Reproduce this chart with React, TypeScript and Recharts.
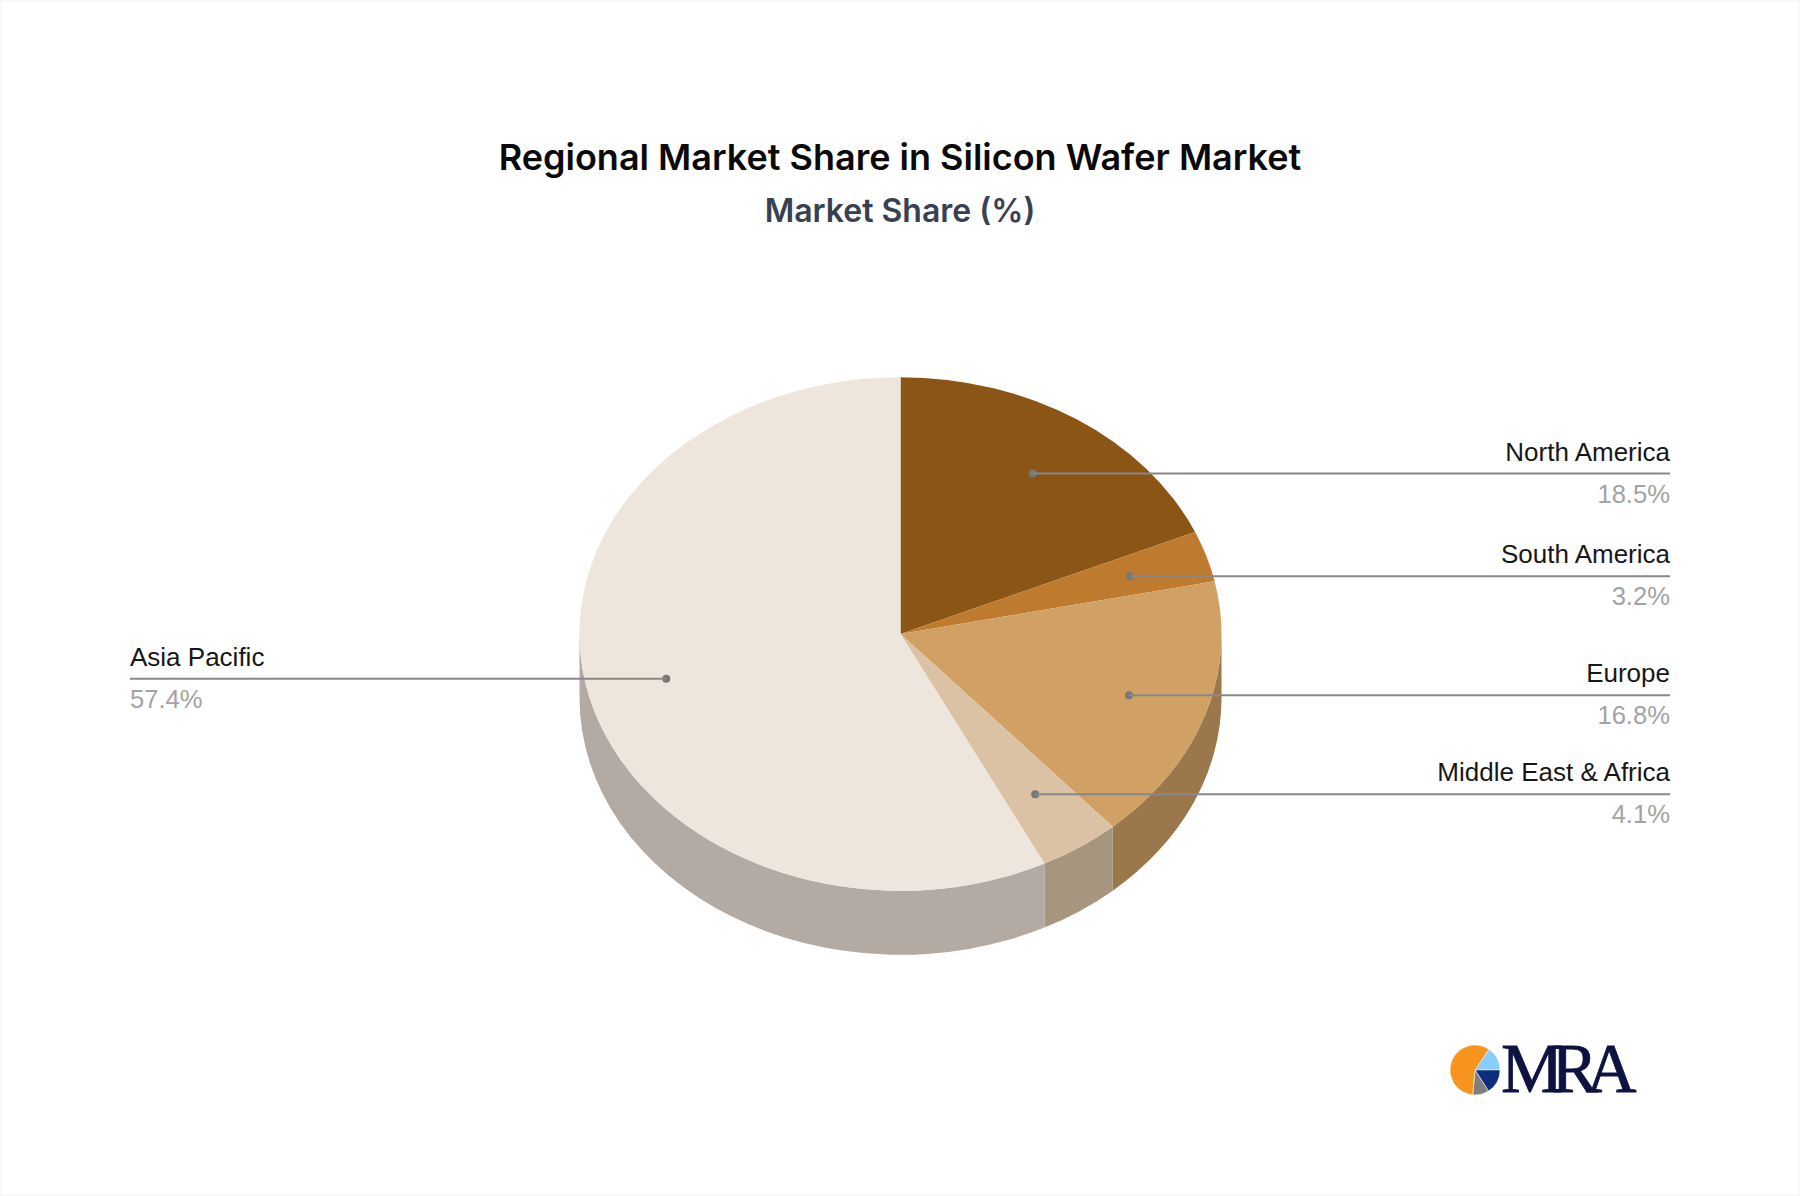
import React from "react";
import { PieChart, Pie, Sector, Cell } from "recharts";

const regions = ["North America", "South America", "Europe", "Middle East & Africa", "Asia Pacific"];
const shares = [18.5, 3.2, 16.8, 4.1, 57.4];
const topColors = ["#8B5515", "#BE7B2F", "#D1A064", "#DCC2A4", "#EEE5DC"];
const sideColors = ["#61400F", "#83551F", "#9B784C", "#A6967F", "#B2AAA3"];

const logoParts = ["a", "b", "c", "d"];
const logoValues = [15.5, 16, 10.5, 58];
const logoColors = ["#87CEFA", "#0F2C7D", "#7F7F7F", "#F7941D"];

const chartData = regions.map((name, i) => ({ name, value: shares[i] }));
const logoData = logoParts.map((name, i) => ({ name, value: logoValues[i] }));

const TILT = 0.8;
const DEPTH = 64;
const RAD = Math.PI / 180;

// squash the normal sector into an ellipse around the pie centre
const TopSlice = (props: any) => {
  const { cx, cy } = props;
  return (
    <g transform={`translate(${cx} ${cy}) scale(1 ${TILT}) translate(${-cx} ${-cy})`}>
      <Sector {...props} />
    </g>
  );
};

// side wall, only the part of a slice that faces the viewer
const SideSlice = (props: any) => {
  const { cx, cy, outerRadius, startAngle, endAngle, fill } = props;
  const from = Math.min(startAngle, 0);
  const to = Math.max(endAngle, -180);
  if (from <= to) return null;
  const rx = outerRadius;
  const ry = outerRadius * TILT;
  const x1 = cx + rx * Math.cos(from * RAD);
  const y1 = cy - ry * Math.sin(from * RAD);
  const x2 = cx + rx * Math.cos(to * RAD);
  const y2 = cy - ry * Math.sin(to * RAD);
  const d = `M${x1} ${y1} A${rx} ${ry} 0 0 1 ${x2} ${y2} L${x2} ${y2 + DEPTH} A${rx} ${ry} 0 0 0 ${x1} ${y1 + DEPTH} Z`;
  return <path d={d} fill={fill} />;
};

const renderLabel = (props: any) => {
  const { cx, cy, midAngle, outerRadius, name, value } = props;
  const x = cx + 0.75 * outerRadius * Math.cos(midAngle * RAD);
  const y = cy + 0.5 - 0.75 * outerRadius * TILT * Math.sin(midAngle * RAD);
  const right = x > cx;
  const endX = right ? 1670 : 130;
  const anchor = right ? "end" : "start";
  return (
    <g>
      <circle cx={x} cy={y} r={4} fill="#777777" />
      <line x1={x} y1={y} x2={endX} y2={y} stroke="#888888" strokeWidth={2} />
      <text x={endX} y={y - 13} textAnchor={anchor} fontFamily="Liberation Sans" fontSize={26} fill="#171717">
        {name}
      </text>
      <text x={endX} y={y + 29} textAnchor={anchor} fontFamily="Liberation Sans" fontSize={25.6} fill="#A3A3A3">
        {value}%
      </text>
    </g>
  );
};

export default function App() {
  return (
    <div style={{ position: "absolute", left: 0, top: 0, width: 1800, height: 1196, boxShadow: "inset 0 0 0 2px #F8F8F8" }}>
      <PieChart width={1800} height={1196} margin={{ top: 0, right: 0, bottom: 0, left: 0 }}>
        <text x={900} y={170} textAnchor="middle" fontFamily="Inter" fontWeight={600} fontSize={36} fill="#0A0A0A">
          Regional Market Share in Silicon Wafer Market
        </text>
        <text x={900} y={222} textAnchor="middle" fontFamily="Inter" fontWeight={600} fontSize={32} fill="#374151">
          Market Share (%)
        </text>
        <Pie
          data={chartData}
          dataKey="value"
          nameKey="name"
          cx={900.5}
          cy={634}
          outerRadius={321}
          startAngle={90}
          endAngle={-270}
          stroke="none"
          shape={SideSlice}
          isAnimationActive={false}
        >
          {chartData.map((entry, index) => (
            <Cell key={entry.name} fill={sideColors[index]} />
          ))}
        </Pie>
        <Pie
          data={chartData}
          dataKey="value"
          nameKey="name"
          cx={900.5}
          cy={634}
          outerRadius={321}
          startAngle={90}
          endAngle={-270}
          stroke="none"
          shape={TopSlice}
          label={renderLabel}
          labelLine={false}
          isAnimationActive={false}
        >
          {chartData.map((entry, index) => (
            <Cell key={entry.name} fill={topColors[index]} />
          ))}
        </Pie>
        <Pie
          data={logoData}
          dataKey="value"
          nameKey="name"
          cx={1475}
          cy={1070}
          outerRadius={25}
          startAngle={56}
          endAngle={-304}
          stroke="#ffffff"
          strokeWidth={0.5}
          isAnimationActive={false}
        >
          {logoData.map((entry, index) => (
            <Cell key={entry.name} fill={logoColors[index]} />
          ))}
        </Pie>
        <text x={1501} y={1092} fontFamily="Liberation Serif" fontSize={70} letterSpacing={-12} stroke="#0E1240" strokeWidth={0.8} fill="#0E1240">
          MRA
        </text>
      </PieChart>
    </div>
  );
}
